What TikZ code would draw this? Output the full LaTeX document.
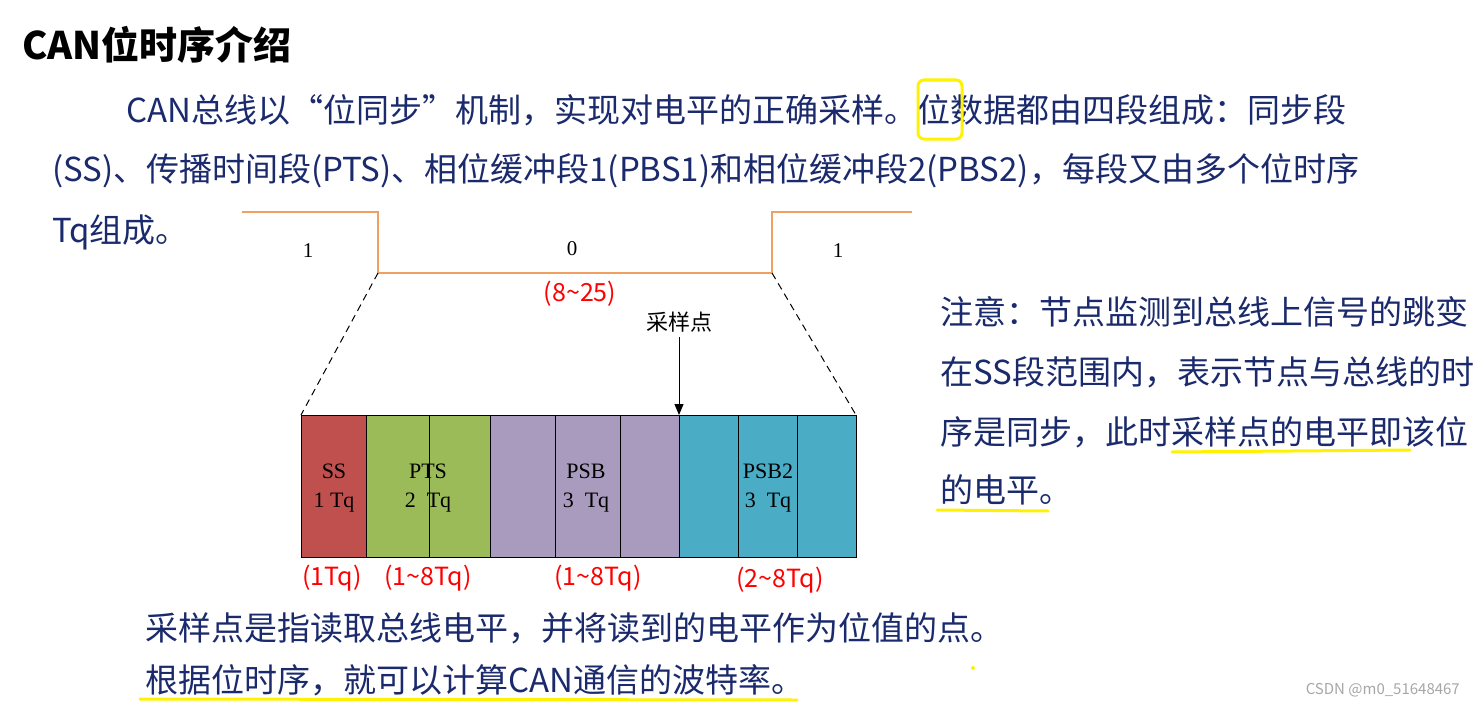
\documentclass[tikz,border=0pt]{standalone}
\usepackage{fontspec}
\setmainfont{Noto Sans CJK SC}
\newfontfamily\serifx{Liberation Serif}
\usetikzlibrary{arrows.meta}
\definecolor{txt}{HTML}{1A2A6C}
\definecolor{sig}{HTML}{F0A060}
\definecolor{ssc}{HTML}{C0504D}
\definecolor{ptsc}{HTML}{9BBB59}
\definecolor{psbc}{HTML}{A99BBD}
\definecolor{psb2c}{HTML}{4BACC6}
\definecolor{hl}{HTML}{FFF200}
\tikzset{
 body/.style={anchor=west,inner sep=0,text=txt,font=\fontsize{33}{33}\selectfont},
 redl/.style={inner sep=0,text=red,font=\fontsize{25}{25}\selectfont},
 seg/.style={draw=black,line width=1pt},
 segt/.style={inner sep=0,font=\serifx\fontsize{22}{22}\selectfont,align=center},
 lvl/.style={inner sep=0,font=\serifx\fontsize{21}{21}\selectfont},
 hlline/.style={draw=hl,line width=3pt,line cap=round}
}
\begin{document}
\begin{tikzpicture}[x=1pt,y=-1pt]
\useasboundingbox (0,0) rectangle (1475,709);
\node[anchor=west,inner sep=0,font=\fontsize{38}{38}\selectfont\bfseries] (title) at (22,45) {CAN位时序介绍};
\node[body] (p1) at (126,110) {CAN总线以“位同步”机制，实现对电平的正确采样。位数据都由四段组成：同步段};
\node[body] (p2) at (52,171) {(SS)、传播时间段(PTS)、相位缓冲段1(PBS1)和相位缓冲段2(PBS2)，每段又由多个位时序};
\node[body] (p3) at (52,232) {Tq组成。};
\draw[hl,line width=3pt,rounded corners=6pt] (918,80) rectangle (962,139);
% signal
\coordinate (s0) at (242,212); \coordinate (s1) at (378,212); \coordinate (s2) at (378,273);
\coordinate (s3) at (772,273); \coordinate (s4) at (772,212); \coordinate (s5) at (912,212);
\draw[sig,line width=2pt] (s0)--(s1)--(s2)--(s3)--(s4)--(s5);
\node[lvl] (l1) at (308,251) {1};
\node[lvl] (l0) at (572,249) {0};
\node[lvl] (l2) at (838,251) {1};
\node[redl] (r0) at (580,294) {(8\textasciitilde25)};
% boxes
\fill[ssc] (301,415) rectangle (366,557);
\fill[ptsc] (366,415) rectangle (490,557);
\fill[psbc] (490,415) rectangle (679,557);
\fill[psb2c] (679,415) rectangle (856,557);
\draw[seg] (301,415) rectangle (856,557);
\foreach \x in {366,429,490,555,620,679,738,797} \draw[seg] (\x,415)--(\x,557);
\coordinate (bl) at (301,415); \coordinate (br) at (856,415);
\draw[dash pattern=on 7pt off 5pt,line width=1pt] (s2)--(bl);
\draw[dash pattern=on 7pt off 5pt,line width=1pt] (s3)--(br);
\node[inner sep=0,font=\fontsize{22}{22}\selectfont] (sp) at (679,322) {采样点};
\coordinate (spb) at (679,415);
\draw[line width=1pt,-{Triangle[length=11pt,width=9pt]}] (679,337)--(spb);
\node[segt] (t1) at (334,488) {SS\\[7pt]1 Tq};
\node[segt] (t2) at (428,488) {PTS\\[7pt]2\ \ Tq};
\node[segt] (t3) at (586,488) {PSB\\[7pt]3\ \ Tq};
\node[segt] (t4) at (768,488) {PSB2\\[7pt]3\ \ Tq};
\node[redl] (q1) at (332,578) {(1Tq)};
\node[redl] (q2) at (428,578) {(1\textasciitilde8Tq)};
\node[redl] (q3) at (598,578) {(1\textasciitilde8Tq)};
\node[redl] (q4) at (780,580) {(2\textasciitilde8Tq)};
% note
\node[body] (n1) at (940,312) {注意：节点监测到总线上信号的跳变};
\node[body] (n2) at (940,372) {在SS段范围内，表示节点与总线的时};
\node[body] (n3) at (940,432) {序是同步，此时采样点的电平即该位};
\node[body] (n4) at (940,490) {的电平。};
\draw[hlline] (1172,452)--(1410,450);
\draw[hlline] (937,510)--(1048,511);
% bottom
\node[body] (b1) at (145,628) {采样点是指读取总线电平，并将读到的电平作为位值的点。};
\node[body] (b2) at (145,680) {根据位时序，就可以计算CAN通信的波特率。};
\draw[hlline] (140,699)--(797,700);
\fill[hl] (973,668) circle (2pt);
\node[anchor=east,inner sep=0,text=gray!70,font=\fontsize{15}{15}\selectfont] (wm) at (1460,690) {CSDN @m0\_51648467};
\end{tikzpicture}
\end{document}
